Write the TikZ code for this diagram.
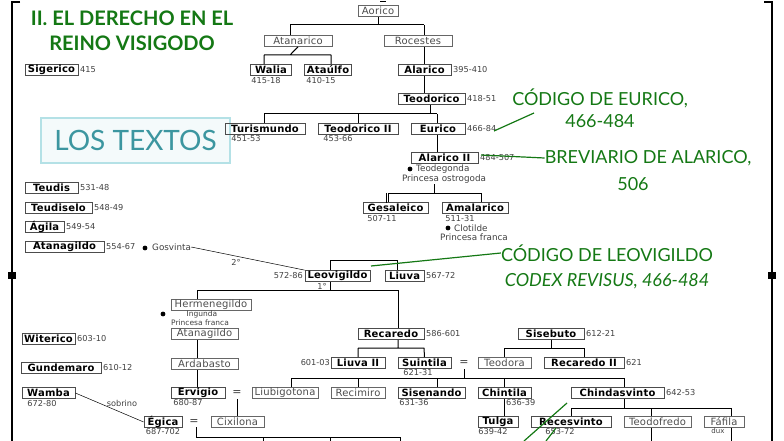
\documentclass[tikz,border=0pt]{standalone}
\usepackage{fontspec}
\setmainfont{DejaVu Sans}
\newfontfamily\bxf[LetterSpace=2]{DejaVu Sans}
\newfontfamily\ttl{Lato}
\definecolor{gr}{RGB}{20,120,20}
\definecolor{teal1}{RGB}{60,150,160}
\definecolor{lcy}{RGB}{180,225,230}
\begin{document}
\begin{tikzpicture}[x=1pt,y=-1pt,
 kb/.style={draw=black!70,line width=0.8pt,inner sep=0,minimum height=11,font=\bxf\fontsize{10}{11}\selectfont\bfseries},
 nb/.style={draw=black!60,line width=0.6pt,inner sep=0,minimum height=11,text=black!70,font=\bxf\fontsize{10}{11}\selectfont},
 dt/.style={inner sep=0,font=\fontsize{8.2}{9}\selectfont,text=black!75},
 ln/.style={line width=1pt},
 gt/.style={text=gr,font=\ttl\fontsize{18}{20}\selectfont,inner sep=0},
 gl/.style={draw=gr,line width=1.2pt}]
\useasboundingbox (0,0) rectangle (784,441);
% frame
\draw[line width=1.2pt] (20,2)--(12,2)--(12,441);
\draw[line width=1.2pt] (764,2)--(772,2)--(772,441);
\fill (8,272) rectangle (16,279);
\fill (768,272) rectangle (776,279);
\draw[line width=1pt] (380,2)--(386,2);
% title
\node[text=gr,font=\ttl\fontsize{20}{25}\selectfont\bfseries,align=center] (title) at (132,31) {II. EL DERECHO EN EL\\REINO VISIGODO};
\node[draw=lcy,line width=1.5pt,fill=lcy!15,minimum width=189,minimum height=45,text=teal1,font=\ttl\fontsize{28}{28}\selectfont] (lt) at (135.5,140.5) {LOS TEXTOS};
% left column
\node[kb,minimum width=53] (sig) at (51.5,70) {Sigerico}; \node[dt,anchor=west] at (80,70) {415};
\node[kb,minimum width=53] (teu) at (51.5,188) {Teudis}; \node[dt,anchor=west] at (80,188) {531-48};
\node[kb,minimum width=67] (teus) at (58.5,208) {Teudiselo}; \node[dt,anchor=west] at (94,208) {548-49};
\node[kb,minimum width=39] (agi) at (44.5,227) {Ágila}; \node[dt,anchor=west] at (66,227) {549-54};
\node[kb,minimum width=79] (ata) at (64.5,247) {Atanagildo}; \node[dt,anchor=west] at (106,247) {554-67};
\fill (145,248) circle (2.4);
\node[dt,anchor=west,font=\fontsize{8.8}{9}\selectfont] (gos) at (152,247) {Gosvinta};
\node[kb,minimum width=53] (wit) at (48.5,339) {Witerico}; \node[dt,anchor=west] at (77,339) {603-10};
\node[kb,minimum width=80] (gun) at (61,368) {Gundemaro}; \node[dt,anchor=west] at (103,368) {610-12};
\node[kb,minimum width=53] (wam) at (48.5,393) {Wamba}; \node[dt] at (42,404) {672-80};
% tree top
\node[nb,minimum width=40] (aor) at (378,11) {Aorico};
\node[nb,minimum width=68] (atn) at (298,41) {Atanarico};
\node[nb,minimum width=68] (roc) at (418,41) {Rocestes};
\node[kb,minimum width=41] (wal) at (271,70) {Walia}; \node[dt] at (266,81) {415-18};
\node[kb,minimum width=47] (atf) at (328,70) {Ataúlfo}; \node[dt] at (321,81) {410-15};
\node[kb,minimum width=53] (ala) at (424.5,70) {Alarico}; \node[dt,anchor=west] at (453,70) {395-410};
\node[kb,minimum width=67] (teo) at (431.5,99) {Teodorico}; \node[dt,anchor=west] at (467,99) {418-51};
\node[kb,minimum width=80] (tur) at (265,129) {Turismundo}; \node[dt] at (246,139) {451-53};
\node[kb,minimum width=80] (teo2) at (358,129) {Teodorico II}; \node[dt] at (338,139) {453-66};
\node[kb,minimum width=54] (eur) at (438,129) {Eurico}; \node[dt,anchor=west] at (467,129) {466-84};
\node[kb,minimum width=67] (ala2) at (444.5,158) {Alarico II}; \node[dt,anchor=west] at (480,158) {484-507};
\fill (410,169) circle (2.4);
\node[dt,anchor=west,font=\fontsize{8.8}{9}\selectfont] (teod) at (416,169) {Teodegonda};
\node[dt,font=\fontsize{8.8}{9}\selectfont] (pos) at (444,179) {Princesa ostrogoda};
\node[kb,minimum width=65] (ges) at (395.5,208) {Gesaleico}; \node[dt] at (382,219) {507-11};
\node[kb,minimum width=66] (ama) at (475,208) {Amalarico}; \node[dt] at (460,219) {511-31};
\fill (448,228) circle (2.4);
\node[dt,anchor=west,font=\fontsize{8.8}{9}\selectfont] (clo) at (454,228) {Clotilde};
\node[dt,font=\fontsize{8.8}{9}\selectfont] (pfr) at (474,237) {Princesa franca};
\node[kb,minimum width=65] (leo) at (337.5,276) {Leovigildo}; \node[dt,anchor=east] at (303,276) {572-86};
\node[dt] at (322,286) {1°}; \node[dt] at (236,262) {2°};
\node[kb,minimum width=39] (liu) at (404.5,276) {Liuva}; \node[dt,anchor=west] at (426,276) {567-72};
\node[nb,minimum width=80] (her) at (211,305) {Hermenegildo};
\fill (163,314) circle (2.4);
\node[dt,font=\fontsize{7.5}{8}\selectfont] (ing) at (202,314) {Ingunda};
\node[dt,font=\fontsize{7.5}{8}\selectfont] (pfr2) at (200,322.5) {Princesa franca};
\node[nb,minimum width=67] (ata2) at (204.5,334) {Atanagildo};
\node[nb,minimum width=67] (ard) at (204.5,364) {Ardabasto};
\node[kb,minimum width=54] (erv) at (198,393) {Ervigio}; \node[dt] at (188,403) {680-87};
\node[nb,minimum width=66] (liub) at (285,393) {Liubigotona};
\node[nb,minimum width=54] (rec) at (358,393) {Recimiro};
\node[kb,minimum width=67] (sis) at (431.5,393) {Sisenando}; \node[dt] at (414,403) {631-36};
\node[kb,minimum width=53] (chi) at (504.5,393) {Chintila}; \node[dt,anchor=west] at (506,403) {636-39};
\node[kb,minimum width=93] (chd) at (617.5,393) {Chindasvinto}; \node[dt,anchor=west] at (666,393) {642-53};
\node[kb,minimum width=38] (egi) at (163,422) {Égica}; \node[dt] at (163,432) {687-702};
\node[nb,minimum width=53] (cix) at (237.5,422) {Cixilona};
\node[kb,minimum width=66] (rcd) at (391,334) {Recaredo}; \node[dt,anchor=west] at (426,334) {586-601};
\node[kb,minimum width=54] (liu2) at (358,363) {Liuva II}; \node[dt,anchor=east] at (330,363) {601-03};
\node[kb,minimum width=53] (sui) at (424.5,363) {Suintila}; \node[dt] at (418,373) {621-31};
\node[kb,minimum width=66] (seb) at (551,334) {Sisebuto}; \node[dt,anchor=west] at (586,334) {612-21};
\node[nb,minimum width=53] (teoa) at (504.5,363) {Teodora};
\node[kb,minimum width=80] (rc2) at (584,363) {Recaredo II}; \node[dt,anchor=west] at (626,363) {621};
\node[kb,minimum width=40] (tul) at (498,422) {Tulga}; \node[dt] at (493,432) {639-42};
\node[kb,minimum width=80] (rcs) at (571,422) {Recesvinto}; \node[dt] at (560,432) {653-72};
\node[nb,minimum width=67] (tdf) at (657.5,422) {Teodofredo};
\node[nb,minimum width=40] (faf) at (724,422) {Fáfila}; \node[dt,font=\fontsize{7}{7}\selectfont] at (718,431) {dux};
\node[dt,font=\fontsize{11}{11}\selectfont] (eq1) at (237,393) {=};
\node[dt,font=\fontsize{11}{11}\selectfont] (eq2) at (194,422) {=};
\node[dt,font=\fontsize{11}{11}\selectfont] (eq3) at (464,363) {=};
\node[dt] at (122,403) {sobrino};
% lines
\draw[ln] (aor.south)--(378,25) (290,25)--(424,25) (290,25)--(atn.north-|290,0) (424,25)--(roc.north-|424,0);
\draw[ln] (atn.south)--(290,55) (264,55)--(331,55) (264,55)--(wal.north-|264,0) (331,55)--(atf.north-|331,0);
\draw[ln] (roc.south-|424,0)--(ala.north-|424,0);
\draw[line width=0.5pt,double,double distance=1pt] (ala.south-|425,0)--(teo.north-|425,0);
\draw[ln] (teo.south-|430,0)--(430,114) (264,114)--(437,114) (264,114)--(tur.north-|264,0) (358,114)--(teo2.north) (437,114)--(eur.north-|437,0);
\draw[ln] (eur.south-|437,0)--(ala2.north-|437,0);
\draw[ln] (434,184)--(434,193) (388,193)--(481,193) (388,193)--(ges.north-|388,0) (481,193)--(ama.north-|481,0);
\draw[line width=0.5pt] (386,193)--(386,203);
\draw[ln] (330,260)--(397,260) (330,260)--(leo.north-|330,0) (397,260)--(liu.north-|397,0);
\draw[line width=0.5pt] (gos.east)--(leo.north west);
\draw[ln] (leo.south-|330,0)--(330,290) (197,290)--(398,290) (197,290)--(her.north-|197,0) (398,290)--(rcd.north-|398,0);
\draw[ln] (ata2.south-|197,0)--(ard.north-|197,0) (ard.south-|197,0)--(erv.north-|197,0);
\draw[ln] (rcd.south-|398,0)--(398,348) (358,348)--(424,348) (358,348)--(liu2.north) (424,348)--(sui.north);
\draw[ln] (seb.south)--(551,348) (504,348)--(584,348) (504,348)--(teoa.north-|504,0) (584,348)--(rc2.north);
\draw[ln] (464,369)--(464,378) (291,378)--(624,378) (291,378)--(liub.north-|291,0) (358,378)--(rec.north) (437,378)--(sis.north-|437,0) (504,378)--(chi.north-|504,0) (624,378)--(chd.north-|624,0);
\draw[ln] (chi.south-|504,0)--(tul.north-|504,0);
\draw[ln] (chd.south-|624,0)--(624,408) (571,408)--(731,408) (571,408)--(rcs.north-|571,0) (651,408)--(tdf.north-|651,0) (731,408)--(faf.north-|731,0);
\draw[ln] (tdf.south-|651,0)--(651,441) (faf.south-|731,0)--(731,441);
\draw[ln] (237,399)--(cix.north-|237,0);
\draw[ln] (196,427)--(196,437) (196,437)--(400,437) (263,437)--(263,441) (330,437)--(330,441) (400,437)--(400,441);
\draw[line width=0.5pt] (wam.east)--(egi.west);
% green annotations
\node[gt] (ce) at (600,98) {CÓDIGO DE EURICO,};
\node[gt] (ce2) at (600,121) {466-484};
\node[gt] (br) at (648,158) {BREVIARIO DE ALARICO,};
\node[gt] (br2) at (633,184) {506};
\node[gt] (cl) at (607,253) {CÓDIGO DE LEOVIGILDO};
\node[gt,font=\ttl\fontsize{18}{20}\selectfont\itshape] (cl2) at (607,281) {CODEX REVISUS, 466-484};
\draw[gl] (534,113)--(494,131);
\draw[gl] (481,155)--(br.west);
\draw[gl] (cl.west)--(371,266);
\draw[gl] (567,403)--(524,441);
\draw[gl] (556,428)--(546,441);
\end{tikzpicture}
\end{document}
